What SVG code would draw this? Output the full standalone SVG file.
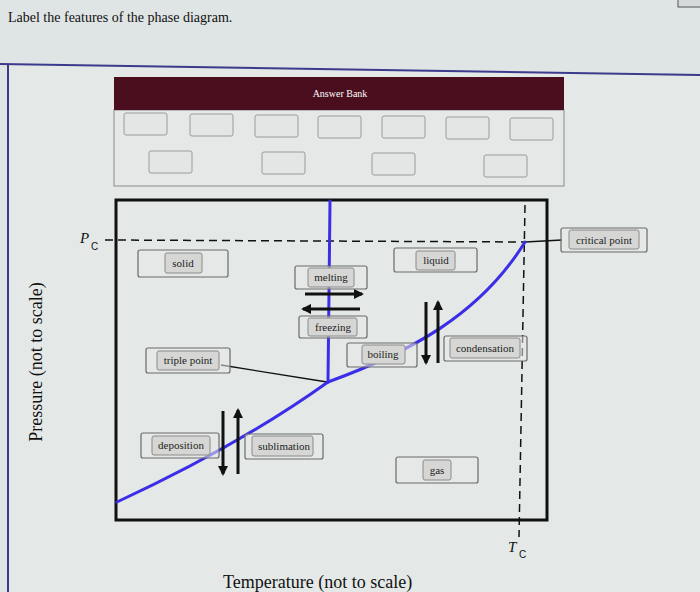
<svg xmlns="http://www.w3.org/2000/svg" width="700" height="592" viewBox="0 0 700 592">
<style>
.lbl{font-family:"Liberation Serif","DejaVu Serif",serif;font-size:11px;fill:#222;text-anchor:middle;dominant-baseline:central}
.outer{fill:#e6e8e6;fill-opacity:0.55;stroke:#6a6a6a;stroke-width:1.2}
.inner{fill:#d6d7d5;stroke:#8a8a8a;stroke-width:1}
.slot{fill:#e4e6e6;stroke:#9a9a9a;stroke-width:1}
.blue{fill:none;stroke:#3b2ee6;stroke-width:3;stroke-linecap:round}
.arr{stroke:#111;stroke-width:3;fill:none;marker-end:url(#ah)}
.dash{stroke:#111;stroke-width:1.5;stroke-dasharray:8 5;fill:none}
.axis{font-family:"Liberation Serif","DejaVu Serif",serif;font-size:18px;fill:#111}
</style>
<defs>
<marker id="ah" viewBox="0 0 10 10" refX="8" refY="5" markerWidth="3.4" markerHeight="3.4" orient="auto">
<path d="M0,0 L10,5 L0,10 z" fill="#111"/>
</marker>
</defs>
<rect width="700" height="592" fill="#dfe4e4"/>
<path d="M8,65 L700,76 L700,592 L8,592 z" fill="#e4e9e8"/>
<path d="M0,64 L700,75" stroke="#3c3a8c" stroke-width="2" fill="none"/>
<path d="M8,65 L8,592" stroke="#3c3a8c" stroke-width="2" fill="none"/>
<rect x="678" y="-2" width="24" height="9" fill="#d6dadb" stroke="#555" stroke-width="1"/>
<text x="8" y="22" font-family="Liberation Serif, serif" font-size="14" fill="#111">Label the features of the phase diagram.</text>

<g id="answer-bank">
<rect x="114" y="110" width="450" height="76" fill="#e6e7e7" stroke="#8a8a8a" stroke-width="1"/>
<rect x="114" y="77" width="450" height="33" fill="#4a0e1e"/>
<text x="340" y="97" font-family="Liberation Serif, serif" font-size="10" fill="#fff" text-anchor="middle">Answer Bank</text>
<rect class="slot" x="124" y="113" width="43" height="22" rx="2"/>
<rect class="slot" x="190" y="114" width="43" height="22" rx="2"/>
<rect class="slot" x="255" y="115" width="43" height="22" rx="2"/>
<rect class="slot" x="318" y="116" width="43" height="22" rx="2"/>
<rect class="slot" x="382" y="116" width="43" height="22" rx="2"/>
<rect class="slot" x="446" y="117" width="43" height="22" rx="2"/>
<rect class="slot" x="510" y="118" width="43" height="22" rx="2"/>
<rect class="slot" x="149" y="151" width="43" height="22" rx="2"/>
<rect class="slot" x="262" y="152" width="43" height="22" rx="2"/>
<rect class="slot" x="372" y="153" width="43" height="22" rx="2"/>
<rect class="slot" x="484" y="155" width="43" height="22" rx="2"/>
</g>

<g id="plot-frame">
<rect x="116" y="200" width="431" height="320" fill="none" stroke="#111" stroke-width="3"/>
</g>

<g id="connectors">
<line class="dash" x1="105" y1="240" x2="525" y2="242"/>
<line class="dash" x1="525" y1="205" x2="519" y2="537"/>
<line x1="525" y1="242" x2="562" y2="240" stroke="#111" stroke-width="1.3"/>
<line x1="221" y1="365" x2="327" y2="382" stroke="#111" stroke-width="1.3"/>
<line class="blue" x1="330" y1="201" x2="328" y2="382"/>
<path class="blue" d="M328,382 C410,352 480,315 525,242"/>
<path class="blue" d="M117,502 Q240,445 328,382"/>
<line class="arr" x1="305" y1="294" x2="362" y2="294"/>
<line class="arr" x1="360" y1="309" x2="303" y2="309"/>
<line class="arr" x1="426" y1="302" x2="426" y2="363"/>
<line class="arr" x1="438" y1="363" x2="438" y2="302"/>
<line class="arr" x1="223" y1="411" x2="223" y2="474"/>
<line class="arr" x1="238" y1="474" x2="238" y2="410"/>
</g>

<g id="axis-labels">
<text x="80" y="243" font-family="Liberation Serif, serif" font-size="15" font-style="italic" fill="#111">P</text>
<text x="91" y="250" font-family="Liberation Sans, sans-serif" font-size="10" fill="#111">C</text>
<text x="508" y="552" font-family="Liberation Serif, serif" font-size="15" font-style="italic" fill="#111">T</text>
<text x="519" y="558" font-family="Liberation Sans, sans-serif" font-size="10" fill="#111">C</text>
<text class="axis" x="223" y="588">Temperature (not to scale)</text>
<text class="axis" transform="translate(42,362) rotate(-90)" text-anchor="middle" font-size="17">Pressure (not to scale)</text>
</g>

<g id="node-critical-point">
<rect class="outer" x="561" y="228" width="86" height="24" rx="2"/>
<rect class="inner" x="569" y="230" width="70" height="19" rx="2"/>
<text class="lbl" x="604" y="240">critical point</text>
</g>
<g id="node-solid">
<rect class="outer" x="138" y="250" width="90" height="27" rx="2"/>
<rect class="inner" x="165" y="253" width="37" height="20" rx="2"/>
<text class="lbl" x="183" y="263">solid</text>
</g>
<g id="node-liquid">
<rect class="outer" x="394" y="248" width="83" height="24" rx="2"/>
<rect class="inner" x="416" y="251" width="39" height="19" rx="2"/>
<text class="lbl" x="436" y="260">liquid</text>
</g>
<g id="node-melting">
<rect class="outer" x="295" y="266" width="72" height="23" rx="2"/>
<rect class="inner" x="308" y="268" width="46" height="19" rx="2"/>
<text class="lbl" x="331" y="277">melting</text>
</g>
<g id="node-freezing">
<rect class="outer" x="299" y="316" width="68" height="22" rx="2"/>
<rect class="inner" x="308" y="318" width="49" height="18" rx="2"/>
<text class="lbl" x="333" y="327">freezing</text>
</g>
<g id="node-boiling">
<rect class="outer" x="347" y="343" width="70" height="24" rx="2"/>
<rect class="inner" x="362" y="345" width="43" height="19" rx="2"/>
<text class="lbl" x="383" y="354">boiling</text>
</g>
<g id="node-condensation">
<rect class="outer" x="444" y="336" width="83" height="25" rx="2"/>
<rect class="inner" x="450" y="338" width="70" height="20" rx="2"/>
<text class="lbl" x="485" y="348">condensation</text>
</g>
<g id="node-triple-point">
<rect class="outer" x="146" y="348" width="84" height="25" rx="2"/>
<rect class="inner" x="157" y="351" width="62" height="19" rx="2"/>
<text class="lbl" x="188" y="360">triple point</text>
</g>
<g id="node-deposition">
<rect class="outer" x="141" y="433" width="78" height="25" rx="2"/>
<rect class="inner" x="152" y="436" width="58" height="19" rx="2"/>
<text class="lbl" x="181" y="445">deposition</text>
</g>
<g id="node-sublimation">
<rect class="outer" x="245" y="434" width="78" height="25" rx="2"/>
<rect class="inner" x="252" y="436" width="61" height="20" rx="2"/>
<text class="lbl" x="284" y="446">sublimation</text>
</g>
<g id="node-gas">
<rect class="outer" x="396" y="457" width="82" height="26" rx="2"/>
<rect class="inner" x="423" y="460" width="28" height="20" rx="2"/>
<text class="lbl" x="437" y="470">gas</text>
</g>
</svg>
